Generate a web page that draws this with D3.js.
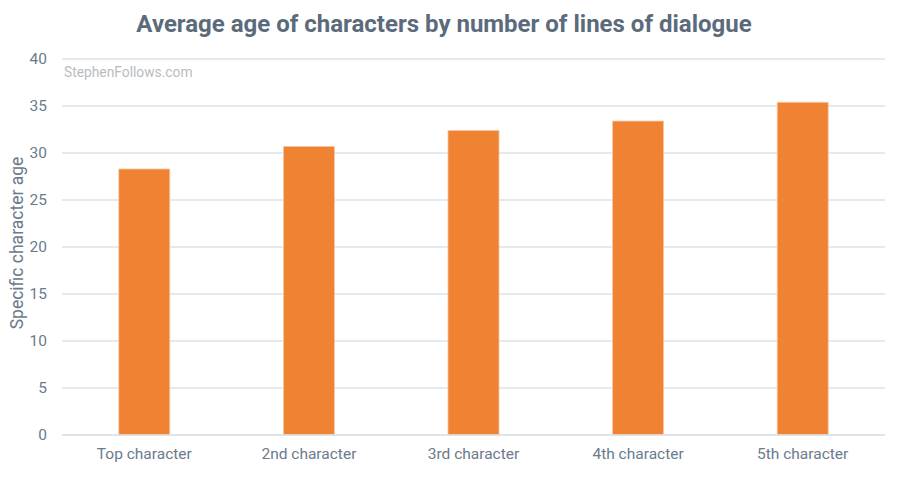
<!DOCTYPE html>
<html>
<head>
<meta charset="utf-8">
<script src="https://cdn.jsdelivr.net/npm/d3@7"></script>
<style>
  body { margin: 0; background: #fff; }
  svg { display: block; font-family: Roboto, "Noto Sans", sans-serif; }
</style>
</head>
<body>
<svg id="chart" width="900" height="477"></svg>
<script>
const categories = ["Top character", "2nd character", "3rd character", "4th character", "5th character"];
const ages = [28.3, 30.7, 32.4, 33.4, 35.4];
const yTicks = [0, 5, 10, 15, 20, 25, 30, 35, 40];

const svg = d3.select("#chart");
const plotLeft = 62, plotRight = 885, plotTop = 59, plotBottom = 435;

const x = d3.scaleBand().domain(categories).range([plotLeft, plotRight]).paddingInner(0.69).paddingOuter(0.345);
const y = d3.scaleLinear().domain([0, 40]).range([plotBottom, plotTop]);

// title
svg.append("text")
    .attr("x", 444).attr("y", 32)
    .attr("text-anchor", "middle")
    .style("font-size", "24px").style("font-weight", "bold")
    .style("fill", "#5b6b7c")
    .text("Average age of characters by number of lines of dialogue");

// gridlines
svg.append("g").selectAll("line").data(yTicks).join("line")
    .attr("x1", plotLeft).attr("x2", plotRight)
    .attr("y1", d => y(d)).attr("y2", d => y(d))
    .attr("stroke", "#dde3e8").attr("stroke-width", 1.5);

// y axis labels
const yAxis = svg.append("g").attr("transform", `translate(${plotLeft},0)`)
    .call(d3.axisLeft(y).tickValues(yTicks).tickSize(0).tickPadding(15));
yAxis.select(".domain").remove();
yAxis.selectAll("text").style("font-size", "15.5px").style("fill", "#6b7b8c").style("font-family", "Roboto, sans-serif");

// watermark
svg.append("text")
    .attr("x", 64).attr("y", 77)
    .style("font-size", "13.8px").style("fill", "#b8bcc0")
    .text("StephenFollows.com");

// bars
svg.append("g").selectAll("rect").data(ages).join("rect")
    .attr("x", (d, i) => x(categories[i]))
    .attr("y", d => y(d))
    .attr("width", x.bandwidth())
    .attr("height", d => y(0) - y(d))
    .attr("fill", "#ef8233")
    .attr("stroke", "#f8c9a4").attr("stroke-width", 0.8);

// baseline
svg.append("line")
    .attr("x1", plotLeft).attr("x2", plotRight)
    .attr("y1", y(0)).attr("y2", y(0))
    .attr("stroke", "#dde3e8").attr("stroke-width", 1.5);

// x axis labels
const xAxis = svg.append("g").attr("transform", `translate(0,${plotBottom})`)
    .call(d3.axisBottom(x).tickSize(0).tickPadding(13));
xAxis.select(".domain").remove();
xAxis.selectAll("text").style("font-size", "15.5px").style("fill", "#6b7b8c").style("font-family", "Roboto, sans-serif");

// y axis title
svg.append("text")
    .attr("transform", "translate(23,243) rotate(-90)")
    .attr("text-anchor", "middle")
    .style("font-size", "17.5px").style("fill", "#6b7b8c")
    .text("Specific character age");
</script>
</body>
</html>
